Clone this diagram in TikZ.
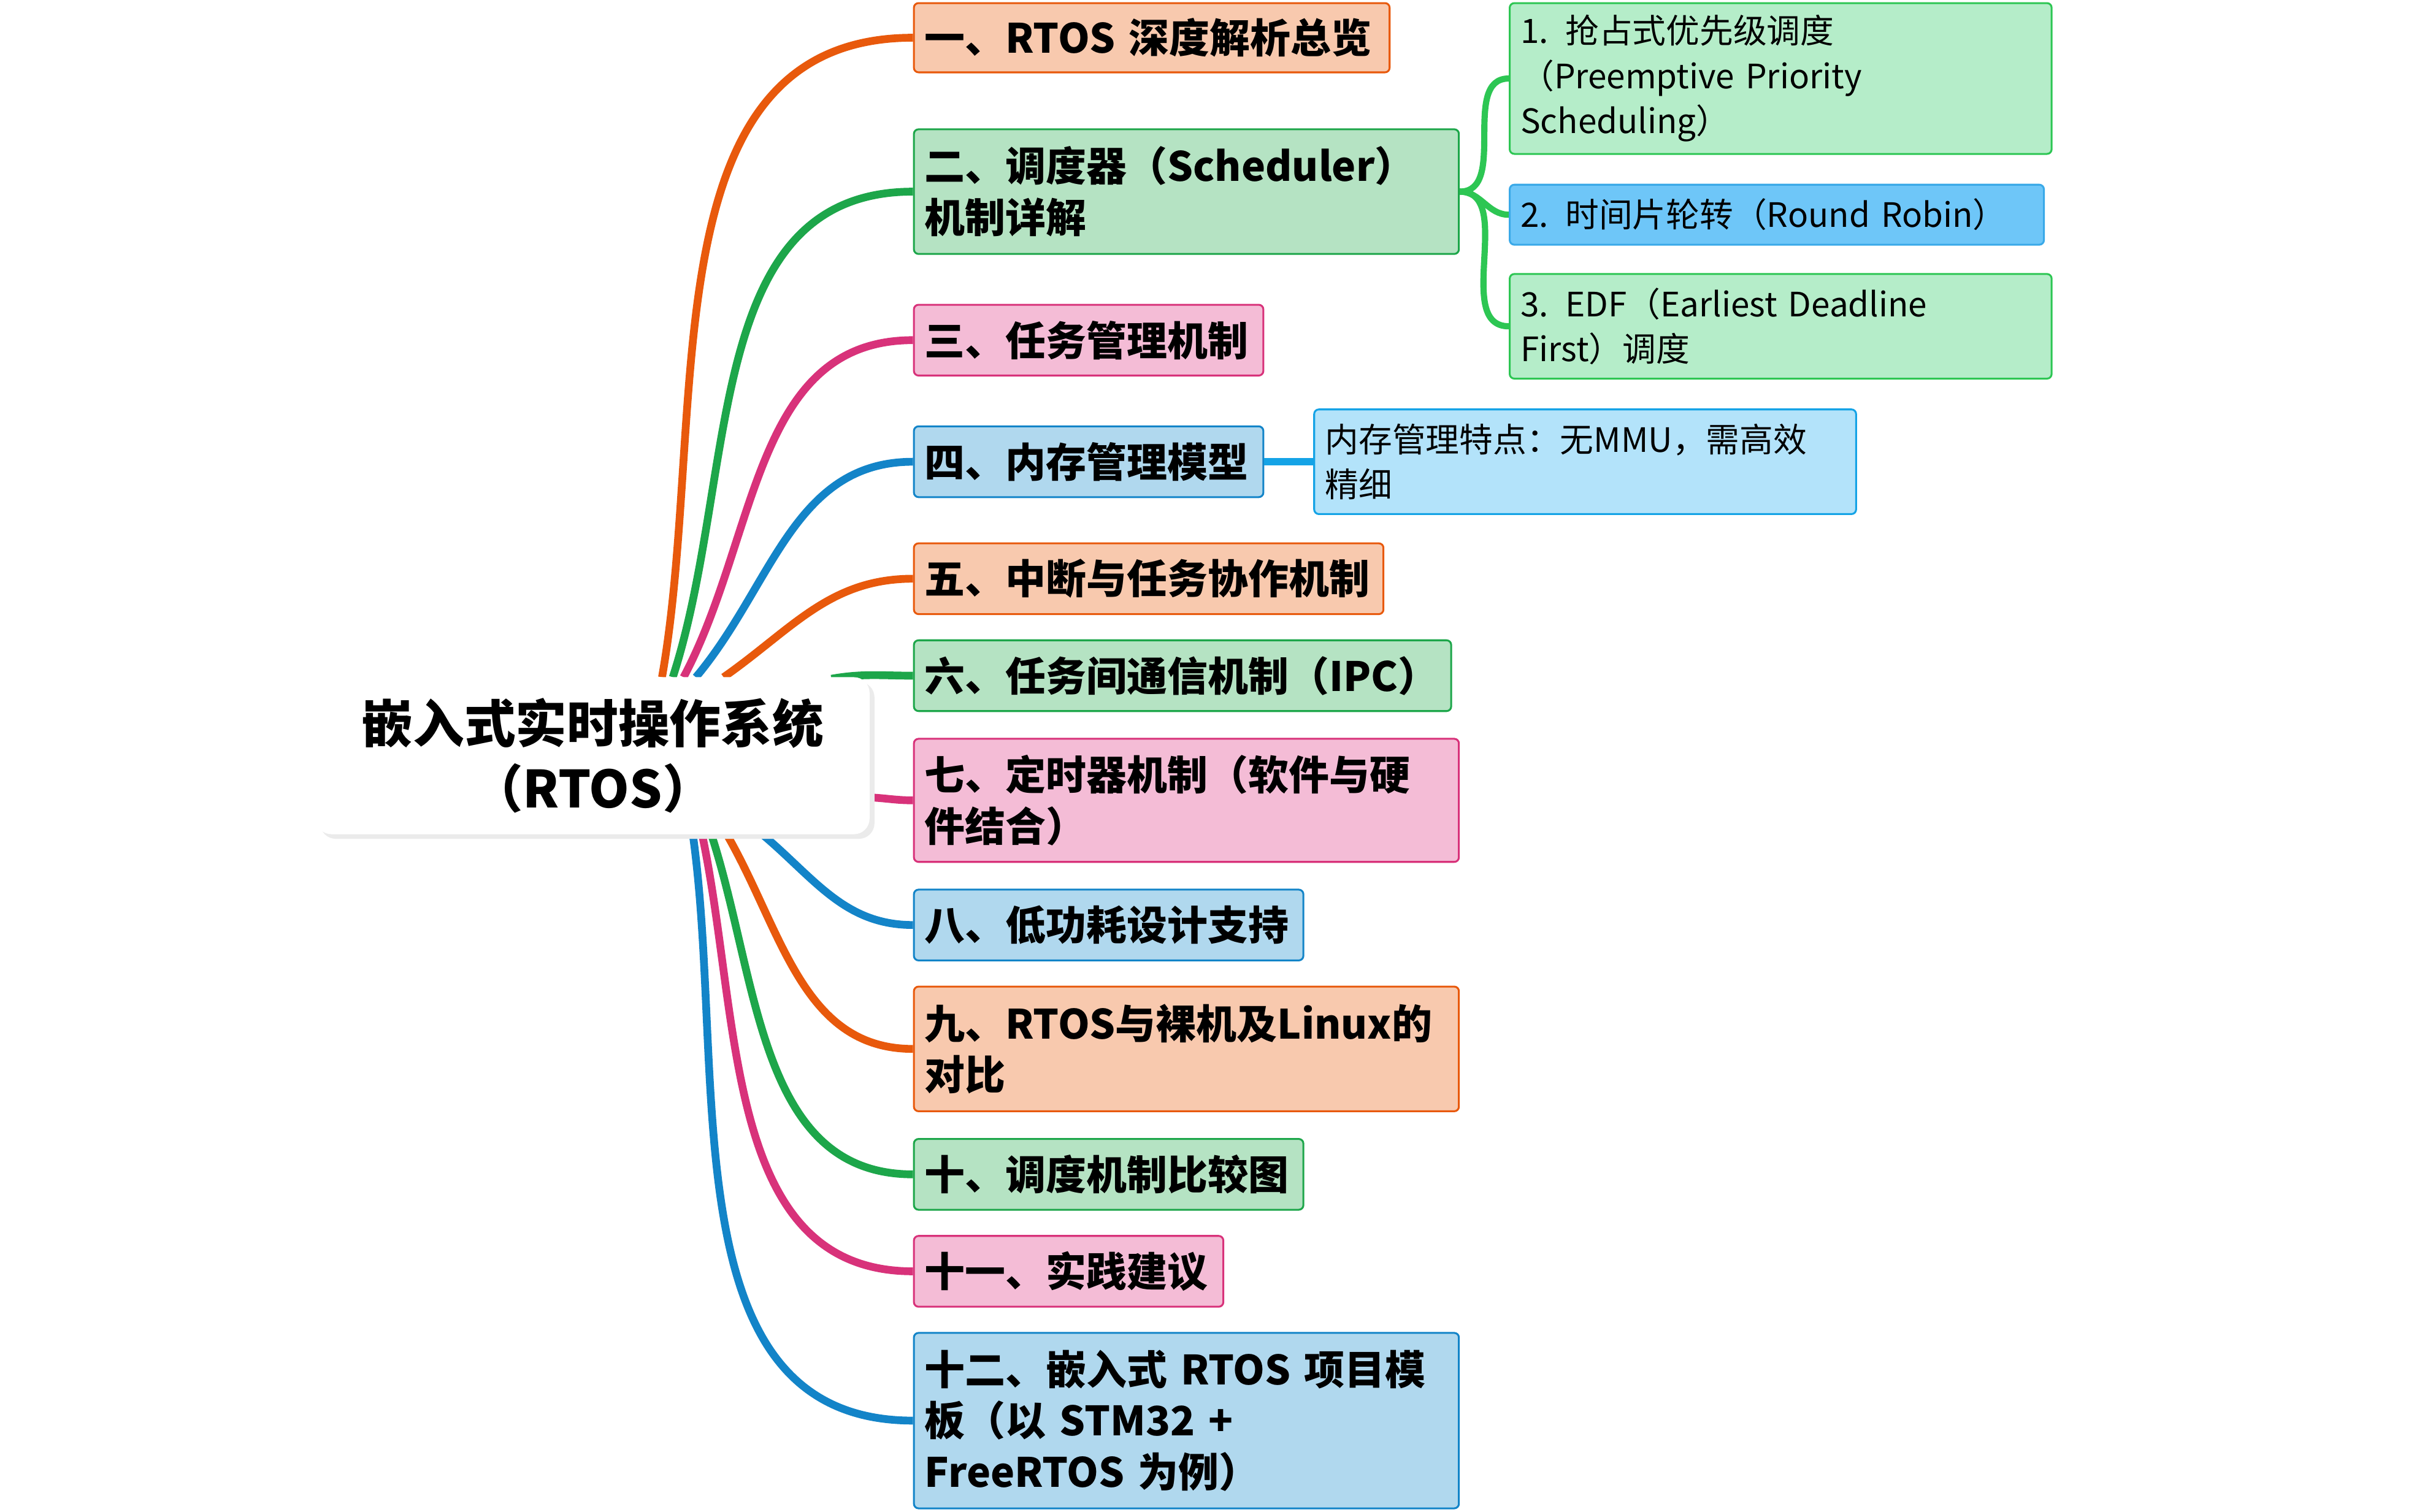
\documentclass[tikz,border=0pt]{standalone}
\usepackage{fontspec}
\setmainfont{Noto Sans CJK SC}
\definecolor{oF}{HTML}{F8C9AE}\definecolor{oB}{HTML}{E8590C}
\definecolor{gF}{HTML}{B5E3C3}\definecolor{gB}{HTML}{1DA64A}
\definecolor{pF}{HTML}{F4BCD6}\definecolor{pB}{HTML}{D8327A}
\definecolor{bF}{HTML}{B0D8EE}\definecolor{bB}{HTML}{1384C8}
\definecolor{lgF}{HTML}{B5EDC9}\definecolor{lgB}{HTML}{2DC653}
\definecolor{rrF}{HTML}{6EC6F8}\definecolor{rrB}{HTML}{3AA9E8}
\definecolor{lbF}{HTML}{B3E3FA}\definecolor{lbB}{HTML}{14A3E6}
\begin{document}
\begin{tikzpicture}[x=0.495pt,y=-0.495pt,
  box/.style={draw,line width=0.6pt,rounded corners=1.5pt,anchor=west,align=left,inner xsep=3.5pt,inner ysep=0pt,
     font=\fontsize{13}{16.5}\selectfont\bfseries},
  sub/.style={box,font=\fontsize{10.8}{14.5}\selectfont},
  con/.style={line width=2.5pt},
]
\useasboundingbox (0,0) rectangle (1568,982);
\def\bx#1#2#3#4#5#6#7#8{% name style x1 x2 y1 y2 fill/border text
  \pgfmathsetmacro\w{(#4-#3)*0.495}\pgfmathsetmacro\h{(#6-#5)*0.495}\pgfmathsetmacro\tw{\w-7}
  \node[#2,#7,minimum width=\w pt,minimum height=\h pt,text width=\tw pt] (#1) at (#3,{(#5+#6)/2}) {#8};}
\coordinate (r1) at (430,440);\coordinate (r2) at (437,440);\coordinate (r3) at (444,440);
\coordinate (r4) at (452,440);\coordinate (r5) at (470,440);\coordinate (r6) at (540,441);
\coordinate (r7) at (560,518);\coordinate (r8) at (495,542);\coordinate (r9) at (472,542);
\coordinate (r10) at (462,542);\coordinate (r11) at (456,542);\coordinate (r12) at (450,542);
\bx{b1}{box}{593}{902}{2}{47}{fill=oF,draw=oB}{一、RTOS 深度解析总览}
\bx{b2}{box}{593}{947}{84}{165}{fill=gF,draw=gB}{二、调度器（Scheduler）\\机制详解}
\bx{b3}{box}{593}{820}{198}{244}{fill=pF,draw=pB}{三、任务管理机制}
\bx{b4}{box}{593}{820}{277}{323}{fill=bF,draw=bB}{四、内存管理模型}
\bx{b5}{box}{593}{898}{353}{399}{fill=oF,draw=oB}{五、中断与任务协作机制}
\bx{b6}{box}{593}{942}{416}{462}{fill=gF,draw=gB}{六、任务间通信机制（IPC）}
\bx{b7}{box}{593}{947}{480}{560}{fill=pF,draw=pB}{七、定时器机制（软件与硬\\件结合）}
\bx{b8}{box}{593}{846}{578}{624}{fill=bF,draw=bB}{八、低功耗设计支持}
\bx{b9}{box}{593}{947}{641}{722}{fill=oF,draw=oB}{九、RTOS与裸机及Linux的\\对比}
\bx{b10}{box}{593}{846}{740}{786}{fill=gF,draw=gB}{十、调度机制比较图}
\bx{b11}{box}{593}{794}{803}{849}{fill=pF,draw=pB}{十一、实践建议}
\bx{b12}{box}{593}{947}{866}{980}{fill=bF,draw=bB}{十二、嵌入式 RTOS 项目模\\板（以 STM32 +\\FreeRTOS 为例）}
\bx{s1}{sub}{980}{1332}{2}{100}{fill=lgF,draw=lgB}{1. 抢占式优先级调度\\（Preemptive Priority\\Scheduling）}
\bx{s2}{sub}{980}{1327}{120}{159}{fill=rrF,draw=rrB}{2. 时间片轮转（Round Robin）}
\bx{s3}{sub}{980}{1332}{178}{246}{fill=lgF,draw=lgB}{3. EDF（Earliest Deadline\\First）调度}
\bx{s4}{sub}{853}{1205}{266}{334}{fill=lbF,draw=lbB}{内存管理特点：无MMU，需高效\\精细}
\foreach \i/\c/\o in {1/oB/80,2/gB/72,3/pB/62,4/bB/50,5/oB/35,6/gB/10,7/pB/0,8/bB/-40,9/oB/-60,10/gB/-72,11/pB/-78,12/bB/-82}{
  \draw[con,\c] (r\i) to[out=\o,in=180] (b\i.west);}
\draw[con,lgB,line width=2pt] (b2.east) to[out=0,in=180] (s1.west);
\draw[con,lgB,line width=2pt] (b2.east) to[out=0,in=180] (s2.west);
\draw[con,lgB,line width=2pt] (b2.east) to[out=0,in=180] (s3.west);
\draw[con,lbB] (b4.east) -- (s4.west);
\fill[black!8,rounded corners=5pt] (208,443) rectangle (568,545);
\node[fill=white,rounded corners=5pt,minimum width=178pt,minimum height=50.5pt,align=center,
  font=\fontsize{16.5}{21}\selectfont\bfseries] (root) at (385,491) {嵌入式实时操作系统\\（RTOS）};
\end{tikzpicture}
\end{document}
